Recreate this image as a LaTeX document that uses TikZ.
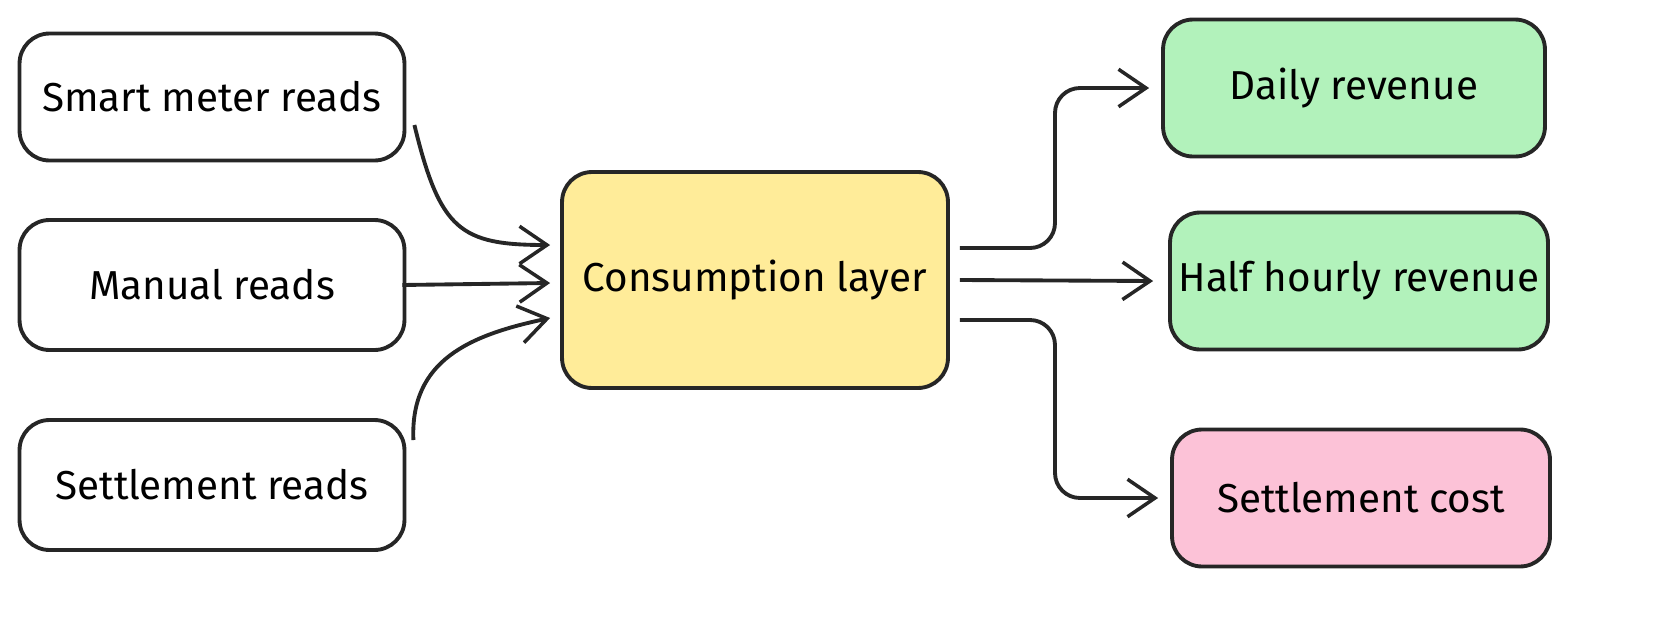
\documentclass[tikz,border=0pt]{standalone}
\usepackage{fontspec}
\setmainfont{Fira Sans}
\usetikzlibrary{arrows.meta}
\definecolor{layeryellow}{HTML}{FFEC99}
\definecolor{revgreen}{HTML}{B2F2BB}
\definecolor{costpink}{HTML}{FCC2D7}
\tikzset{
    box/.style={draw=black!85,line width=2.2pt,rounded corners=0.6cm,
        align=center,font=\fontsize{23}{27}\selectfont},
    flow/.style={draw=black!85,line width=2.2pt,rounded corners=0.5cm,
        -{Straight Barb[length=0.55cm,width=0.75cm,line width=2pt]}}
}
\begin{document}
\begin{tikzpicture}[x=0.02cm,y=-0.02cm]
    \clip (0,0) rectangle (1654,619);
    \path[use as bounding box] (0,0) rectangle (1654,619);

	\node[box,minimum width=7.7cm,minimum height=2.54cm] (smart) at (212,97) {Smart meter reads};
	\node[box,minimum width=7.7cm,minimum height=2.6cm] (manual) at (212,285) {Manual reads};
	\node[box,minimum width=7.7cm,minimum height=2.6cm] (settle) at (212,485) {Settlement reads};
	\node[box,fill=layeryellow,minimum width=7.72cm,minimum height=4.32cm] (layer) at (755,280) {Consumption layer};
	\node[box,fill=revgreen,minimum width=7.64cm,minimum height=2.74cm] (daily) at (1354,88) {Daily revenue};
	\node[box,fill=revgreen,minimum width=7.56cm,minimum height=2.74cm] (half) at (1359,281) {Half hourly revenue};
	\node[box,fill=costpink,minimum width=7.56cm,minimum height=2.74cm] (cost) at (1361,498) {Settlement cost};

	% inputs
	\draw[flow] ([xshift=0.16cm,yshift=-0.56cm]smart.east) .. controls (440,230) and (460,245) .. ([xshift=-0.2cm,yshift=0.7cm]layer.west);
	\draw[flow] ([xshift=-0.08cm]manual.east) -- ([xshift=-0.2cm,yshift=-0.06cm]layer.west);
	\draw[flow] ([xshift=0.14cm,yshift=0.9cm]settle.east) .. controls (410,360) and (470,335) .. ([xshift=-0.2cm,yshift=-0.76cm]layer.west);
	% outputs
	\draw[flow] ([xshift=0.2cm,yshift=0.64cm]layer.east) -| (1055,88) -- ([xshift=-0.24cm]daily.west);
	\draw[flow] ([xshift=0.2cm]layer.east) -- ([xshift=-0.3cm]half.west);
	\draw[flow] ([xshift=0.2cm,yshift=-0.8cm]layer.east) -| (1055,498) -- ([xshift=-0.24cm]cost.west);

\end{tikzpicture}
\end{document}
